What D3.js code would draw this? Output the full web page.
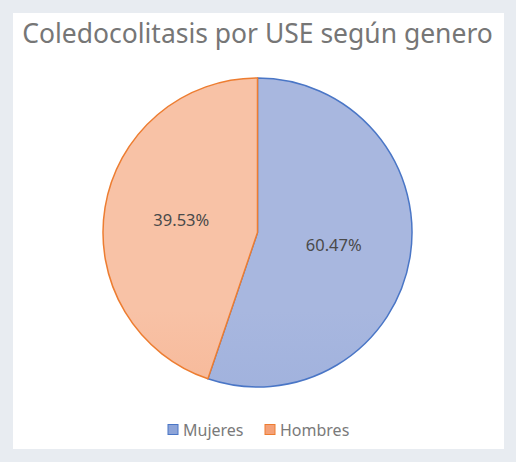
<!DOCTYPE html>
<html><head><meta charset="utf-8">
<script src="https://cdn.jsdelivr.net/npm/d3@7"></script>
<style>html,body{margin:0;padding:0;background:#e8ecf1;}svg{display:block;}</style>
</head><body>
<script>
const categories = ["Mujeres", "Hombres"];
const sliceValues = [55.2, 44.8];
const labelTexts = ["60.47%", "39.53%"];
const titleText = "Coledocolitasis por USE según genero";

const W = 516, H = 462;
const cx = 257.5, cy = 232.5, r = 154.5;
const topColors = ["#a8b7df", "#f8c2a6"];
const botColors = ["#8da4d8", "#f4a178"];
const strokes = ["#4a76c6", "#ed7d31"];

const svg = d3.select("body").append("svg").attr("width", W).attr("height", H);
svg.append("rect").attr("width", W).attr("height", H).attr("fill", "#e8ecf1");
svg.append("rect").attr("x", 13).attr("y", 13).attr("width", 491).attr("height", 436).attr("fill", "#ffffff");

const defs = svg.append("defs");
categories.forEach((c, i) => {
  const g = defs.append("linearGradient").attr("id", "grad" + i)
    .attr("gradientUnits", "userSpaceOnUse")
    .attr("x1", 0).attr("y1", cy - r).attr("x2", 0).attr("y2", cy + r);
  g.append("stop").attr("offset", "0%").attr("stop-color", topColors[i]);
  g.append("stop").attr("offset", "100%").attr("stop-color", botColors[i]);
});

const title = svg.append("text").attr("x", cx).attr("y", 43)
  .attr("text-anchor", "middle").attr("fill", "#767676")
  .attr("font-family", "'Noto Sans', 'Open Sans', sans-serif")
  .attr("font-size", 24).text(titleText);
const tw = title.node().getComputedTextLength();
title.attr("font-size", 24 * 471 / tw);

const pie = d3.pie().sort(null).value(d => d);
const arcs = pie(sliceValues);
const arc = d3.arc().innerRadius(0).outerRadius(r);
const labelArc = d3.arc().innerRadius(r * 0.5).outerRadius(r * 0.5);

const g = svg.append("g").attr("transform", `translate(${cx},${cy})`);
g.selectAll("path").data(arcs).join("path")
  .attr("d", arc)
  .attr("fill", (d, i) => `url(#grad${i})`)
  .attr("stroke", (d, i) => strokes[i])
  .attr("stroke-width", 1.5)
  .attr("stroke-linejoin", "round");

g.selectAll("text.lbl").data(arcs).join("text").attr("class", "lbl")
  .attr("transform", d => { const [x, y] = labelArc.centroid(d); return `translate(${x},${y})`; })
  .attr("text-anchor", "middle").attr("dy", "0.36em")
  .attr("fill", "#4a4a4a")
  .attr("font-family", "'Noto Sans', 'Open Sans', sans-serif")
  .attr("font-size", 16.5)
  .text((d, i) => labelTexts[i]);

// legend
const legendX = [168, 265];
const lg = svg.append("g");
categories.forEach((c, i) => {
  lg.append("rect").attr("x", legendX[i]).attr("y", 424.5).attr("width", 10).attr("height", 10)
    .attr("fill", `url(#grad${i})`).attr("stroke", strokes[i]).attr("stroke-width", 1);
  lg.append("text").attr("x", legendX[i] + 15).attr("y", 436)
    .attr("fill", "#7a7a7a")
    .attr("font-family", "'Noto Sans', 'Open Sans', sans-serif")
    .attr("font-size", 16).text(c);
});
lg.selectAll("rect").each(function(d, i) {
  d3.select(this).attr("fill", [botColors[0], botColors[1]][i]);
});
</script>
</body></html>
